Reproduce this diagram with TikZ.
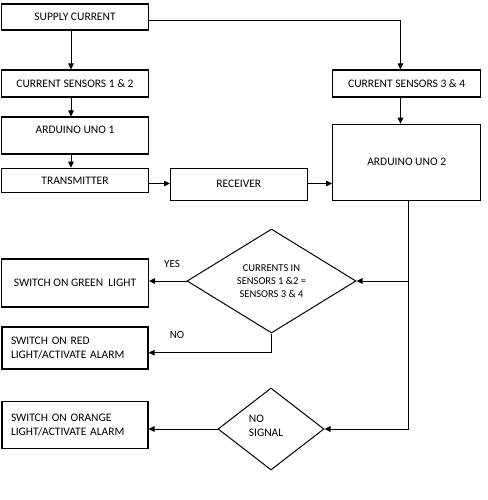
\documentclass[tikz,border=0pt]{standalone}
\usepackage{fontspec}
\setmainfont{Carlito}
\usetikzlibrary{shapes.geometric,arrows.meta}
\begin{document}
\begin{tikzpicture}[x=1pt,y=-1pt,
  box/.style={draw, line width=1.1pt, rectangle, inner sep=0pt, font=\fontsize{11.5}{14}\selectfont},
  lbox/.style={box, align=left, text width=128pt, inner xsep=9pt},
  dia/.style={draw, line width=1pt, diamond, inner sep=0pt},
  arr/.style={line width=1pt, -{Triangle[length=6pt,width=5.5pt]}},
  lab/.style={font=\fontsize{11}{13}\selectfont, inner sep=0pt}]
\useasboundingbox (0,0) rectangle (487,500);
% left column
\node[box, minimum width=147, minimum height=26] (sc) at (75,17) {SUPPLY CURRENT};
\node[box, minimum width=147, minimum height=27] (cs12) at (75,83.5) {CURRENT SENSORS 1 \& 2};
\node[box, minimum width=147, minimum height=37, text height=7.5pt, text depth=11pt] (au1) at (75,135.5) {ARDUINO UNO 1};
\node[box, minimum width=147, minimum height=24.5] (tx) at (75,180.5) {TRANSMITTER};
\node[box, minimum width=136.5, minimum height=32] (rx) at (238.8,184.3) {RECEIVER};
% right column
\node[box, minimum width=148, minimum height=27] (cs34) at (406.7,83.5) {CURRENT SENSORS 3 \& 4};
\node[box, minimum width=148, minimum height=76] (au2) at (406.7,162.3) {ARDUINO UNO 2};
% outputs
\node[box, minimum width=147, minimum height=48] (green) at (75,283) {SWITCH ON GREEN\ \ LIGHT};
\node[lbox, minimum height=42] (red) at (75,348) {SWITCH ON RED\\LIGHT/ACTIVATE ALARM};
\node[lbox, minimum height=47] (orange) at (75,424.7) {SWITCH ON ORANGE\\LIGHT/ACTIVATE ALARM};
% decisions
\node[dia, minimum width=169, minimum height=104,
  label={[align=center, font=\fontsize{10.5}{13}\selectfont]center:CURRENTS IN\\SENSORS 1 \&2 =\\SENSORS 3 \& 4}] (q1) at (271.5,281) {};
\node[dia, minimum width=106, minimum height=82,
  label={[align=left, font=\fontsize{11.5}{14}\selectfont, xshift=-5pt, yshift=3pt]center:NO\\SIGNAL}] (q2) at (271,429) {};
% labels
\node[lab] (yes) at (172,264) {YES};
\node[lab] (no) at (177,335) {NO};
% connectors
\draw[arr] (sc.south -| 71,0) -- (cs12.north -| 71,0);
\draw[arr] (cs12.south -| 71,0) -- (au1.north -| 71,0);
\draw[arr] (au1.south -| 71,0) -- (tx.north -| 71,0);
\draw[arr] (sc.east |- 0,20.5) -| (cs34.north -| 400.5,0);
\draw[arr] (cs34.south -| 400.5,0) -- (au2.north -| 400.5,0);
\draw[arr] (tx.east |- 0,183.5) -- (rx.west |- 0,183.5);
\draw[arr] (rx.east |- 0,183.5) -- (au2.west |- 0,183.5);
\coordinate (j) at (au2.south -| 408.5,0);
\draw[line width=1pt] (j) -- (j |- q2.east);
\draw[arr] (j |- q2.east) -- (q2.east);
\draw[arr] (j |- q1.east) -- (q1.east);
\draw[arr] (q1.west) -- (q1.west -| green.east);
\draw[arr] (q1.south) |- (red.east |- 0,352.7);
\draw[arr] (q2.west) -- (q2.west -| orange.east);
\end{tikzpicture}
\end{document}
